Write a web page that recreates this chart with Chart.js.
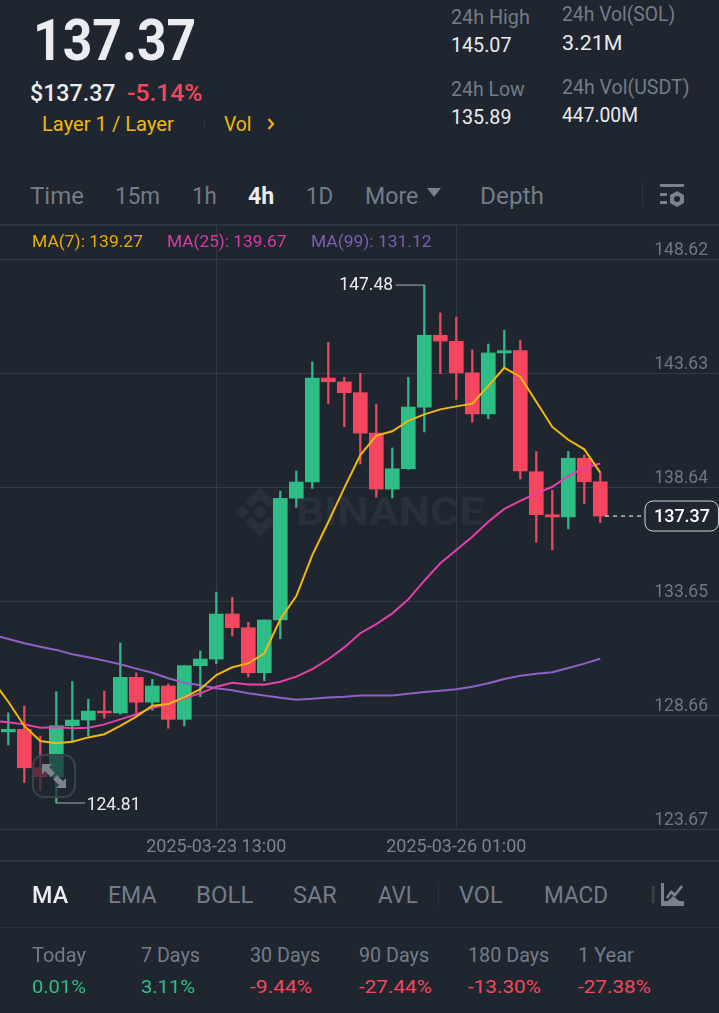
<!DOCTYPE html>
<html>
<head>
<meta charset="utf-8">
<title>SOL/USDT 4h</title>
<script src="https://cdn.jsdelivr.net/npm/chart.js@4"></script>
<style>
  html, body { margin: 0; padding: 0; background: #1f2630; }
  #page { position: relative; width: 719px; height: 1013px; overflow: hidden; background: #1f2630; font-family: Roboto, sans-serif; }
  .t { position: absolute; white-space: nowrap; line-height: 1; transform-origin: left center; z-index: 3; }
  .rule { position: absolute; background: #2d3440; z-index: 0; }
  #chartWrap { position: absolute; left: 0; top: 225px; width: 719px; height: 636px; z-index: 1; }
  #mark { position: absolute; left: 235px; top: 487px; z-index: 0; }
  #expand { position: absolute; left: 32px; top: 754px; width: 40px; height: 40px; border: 2px solid #3b414c; border-radius: 12px; background: rgba(31,38,48,.7); z-index: 2; }
  .icon { position: absolute; z-index: 3; }
</style>
</head>
<body>
<div id="page">
  <div class="rule" style="left:0;top:224px;width:719px;height:2px"></div>
  <div class="rule" style="left:0;top:860px;width:719px;height:2px"></div>
  <div class="rule" style="left:0;top:927px;width:719px;height:1px"></div>
  <div class="rule" style="left:642px;top:183px;width:1px;height:24px"></div>
  <div class="rule" style="left:438px;top:883px;width:1px;height:22px"></div>
  <div class="rule" style="left:204px;top:120px;width:1px;height:8px"></div>

  <svg id="mark" width="50" height="50" viewBox="0 0 48 48" fill="#2a303b">
    <polygon points="24,0 38,14 32,20 24,12 16,20 10,14"/>
    <polygon points="24,48 38,34 32,28 24,36 16,28 10,34"/>
    <polygon points="24,17 31,24 24,31 17,24"/>
    <polygon points="7,17 14,24 7,31 0,24"/>
    <polygon points="41,17 48,24 41,31 34,24"/>
  </svg>

  <div id="chartWrap"><canvas id="myChart" width="719" height="636"></canvas></div>

  <div id="expand">
    <svg width="40" height="40" viewBox="0 0 40 40" fill="#7b828d">
      <polygon points="8,8 18,8 15,11 21,17 17,21 11,15 8,18"/>
      <polygon points="32,32 22,32 25,29 19,23 23,19 29,25 32,22"/>
    </svg>
  </div>

  <svg class="icon" style="left:660px;top:183px" width="24" height="24" viewBox="0 0 24 24" fill="#7b828d">
    <rect x="0" y="1" width="24" height="3"/>
    <rect x="0" y="10" width="7" height="3"/>
    <rect x="0" y="18" width="7" height="3"/>
    <path d="M17 8l7 4v8l-7 4-7-4v-8zM17 13a3 3 0 100 6 3 3 0 000-6z" fill-rule="evenodd"/>
  </svg>
  <svg class="icon" style="left:661px;top:883px" width="23" height="23" viewBox="0 0 23 23" fill="#7b828d">
    <path d="M0 0h3v18h20v5H0z"/>
    <path d="M5 14l5-7 4 3 6-8 2 2-8 10-4-3-3 5z"/>
    <polygon points="12,13 18,18 7,18"/>
  </svg>
  <svg class="icon" style="left:427px;top:188px" width="14" height="9" viewBox="0 0 14 9" fill="#7b828d"><polygon points="0,0 14,0 7,9"/></svg>
  <svg class="icon" style="left:267px;top:118px" width="8" height="12" viewBox="0 0 8 12" fill="none" stroke="#f0b90b" stroke-width="2.2"><polyline points="1.5,1 6,6 1.5,11"/></svg>
</div>

<script>
// Свечи, слева направо, шаг 4 часа
const opens  = [127.92, 128.03, 126.35, 125.96, 128.19, 128.44, 128.83, 128.75, 130.31, 129.22, 129.93, 128.47, 130.82, 131.11, 133.08, 132.48, 130.51, 132.82, 138.15, 138.86, 143.41, 143.24, 142.77, 141.00, 138.55, 139.44, 142.14, 145.28, 145.02, 143.64, 141.84, 144.51, 144.61, 139.31, 137.43, 137.33, 139.90, 138.87];
const closes = [128.03, 126.35, 125.96, 128.19, 128.44, 128.83, 128.75, 130.31, 129.22, 129.93, 128.47, 130.82, 131.11, 133.08, 132.48, 130.51, 132.82, 138.15, 138.86, 143.41, 143.25, 142.77, 141.00, 138.55, 139.44, 142.14, 145.28, 145.03, 143.64, 141.84, 144.51, 144.61, 139.34, 137.43, 137.33, 139.90, 138.87, 137.37];
const highs  = [128.75, 129.05, 127.74, 129.68, 130.13, 129.35, 129.71, 131.81, 130.50, 130.22, 130.02, 130.82, 131.46, 134.04, 133.81, 132.72, 132.82, 138.46, 139.34, 144.12, 144.97, 143.44, 143.62, 142.27, 140.35, 143.44, 147.48, 146.26, 146.08, 144.64, 144.90, 145.50, 145.07, 140.19, 138.50, 140.20, 140.04, 139.28];
const lows   = [127.35, 125.70, 125.35, 124.81, 127.49, 127.75, 128.52, 128.70, 128.75, 128.87, 128.08, 128.18, 129.46, 130.91, 132.12, 130.32, 130.16, 132.00, 137.75, 138.58, 142.29, 141.28, 139.65, 138.19, 138.16, 139.41, 141.05, 143.60, 142.48, 141.48, 141.63, 143.84, 138.99, 136.22, 135.89, 136.81, 137.91, 137.09];

// Скользящие средние, первая точка лежит левее экрана (на одну свечу раньше)
const ma7  = [130.19, 129.24, 128.18, 127.52, 127.42, 127.49, 127.68, 127.82, 128.18, 128.59, 129.07, 129.14, 129.43, 129.79, 130.41, 130.75, 130.92, 131.36, 132.85, 133.87, 135.66, 137.11, 138.60, 140.04, 140.89, 141.08, 141.54, 141.82, 142.04, 142.17, 142.29, 143.07, 143.86, 143.47, 142.37, 141.27, 140.71, 140.29, 139.27];
const ma25 = [128.40, 128.34, 128.25, 128.10, 128.12, 128.08, 128.10, 128.25, 128.47, 128.69, 128.98, 129.13, 129.39, 129.61, 129.90, 130.07, 130.00, 129.99, 130.12, 130.34, 130.67, 131.10, 131.62, 132.24, 132.64, 133.11, 133.72, 134.54, 135.30, 135.88, 136.46, 137.12, 137.68, 138.03, 138.36, 138.65, 139.13, 139.47, 139.67];
const ma99 = [132.18, 131.99, 131.80, 131.65, 131.51, 131.32, 131.19, 131.04, 130.88, 130.69, 130.51, 130.27, 130.07, 129.96, 129.83, 129.74, 129.61, 129.51, 129.42, 129.33, 129.37, 129.43, 129.46, 129.51, 129.51, 129.51, 129.59, 129.67, 129.72, 129.79, 129.90, 130.05, 130.24, 130.38, 130.47, 130.53, 130.72, 130.91, 131.12];

const priceTicks = [123.67, 128.66, 133.65, 138.64, 143.63, 148.62];
const dateTicks  = [13, 28];
const dateLabels = ['2025-03-23 13:00', '2025-03-26 01:00'];

const lastPrice = 137.37;
const highPrice = 147.48;
const lowPrice  = 124.81;

const periods      = ['Today', '7 Days', '30 Days', '90 Days', '180 Days', '1 Year'];
const periodValues = ['0.01%', '3.11%', '-9.44%', '-27.44%', '-13.30%', '-27.38%'];

const GREEN = '#2ebd85';
const RED = '#f6465d';
const GOLD = '#f0b90b';
const GREY = '#747c88';
const WHITE = '#eaecef';

// Подпись с подгонкой ширины под оригинал (шрифт в оригинале уже)
const page = document.getElementById('page');
function put(text, x, cy, size, color, w, weight) {
  const el = document.createElement('span');
  el.className = 't';
  el.textContent = text;
  el.style.cssText = `left:${x}px;top:${cy}px;font-size:${size}px;color:${color};font-weight:${weight || 400}`;
  page.appendChild(el);
  const sx = w ? w / el.offsetWidth : 1;
  el.style.transform = `translateY(-50%) scaleX(${sx})`;
  return el;
}

put('137.37', 33, 40, 58, WHITE, 163, 700);
put('$137.37', 30, 93, 24, WHITE, 86, 500);
put('-5.14%', 127, 93, 24, RED, 75, 500);
put('Layer 1 / Layer', 42, 124, 20, GOLD, 132);
put('Vol', 224, 124, 20, GOLD, 28);

put('24h High', 451, 17, 20, GREY, 79);
put('145.07', 451, 45, 20, WHITE, 60);
put('24h Vol(SOL)', 562, 14, 20, GREY, 113);
put('3.21M', 562, 43, 20, WHITE, 60);
put('24h Low', 451, 89, 20, GREY, 74);
put('135.89', 451, 117, 20, WHITE, 60);
put('24h Vol(USDT)', 562, 87, 20, GREY, 127);
put('447.00M', 562, 115, 20, WHITE, 76);

put('Time', 30, 196, 24, GREY, 54);
put('15m', 115, 196, 24, GREY, 45);
put('1h', 192, 196, 24, GREY, 25);
put('4h', 248, 196, 24, WHITE, 26, 700);
put('1D', 306, 196, 24, GREY, 27);
put('More', 365, 196, 24, GREY, 53);
put('Depth', 480, 196, 24, GREY, 64);

put('MA(7): 139.27', 32, 241, 17, '#e5ae0c', 111);
put('MA(25): 139.67', 167, 241, 17, '#d93ba4', 120);
put('MA(99): 131.12', 311, 241, 17, '#7e5fae', 121);

put('MA', 32, 895, 24, WHITE, 36, 500);
put('EMA', 108, 895, 24, GREY, 48);
put('BOLL', 196, 895, 24, GREY, 57);
put('SAR', 293, 895, 24, GREY, 44);
put('AVL', 378, 895, 24, GREY, 40);
put('VOL', 459, 895, 24, GREY, 44);
put('MACD', 544, 895, 24, GREY, 64);
const cut = put('R', 650, 895, 24, '#3a414c');
cut.style.width = '5px';
cut.style.overflow = 'hidden';

const periodX = [32, 141, 250, 359, 468, 578];
const labelW  = [54, 59, 70, 70, 81, 56];
const valueW  = [54, 54, 62, 73, 73, 73];
periods.forEach((p, i) => {
  put(p, periodX[i], 955, 20, GREY, labelW[i]);
  put(periodValues[i], periodX[i], 986, 19, periodValues[i][0] === '-' ? RED : GREEN, valueW[i]);
});

// Водяной знак под холстом
put('BINANCE', 296, 512, 38, '#2a303b', 188, 700).style.zIndex = 0;

const isUp = opens.map((o, i) => closes[i] >= o);
const candleColors = isUp.map(up => up ? GREEN : RED);

function maLine(values, color) {
  return {
    type: 'line',
    data: values.map((v, i) => ({ x: i - 1, y: v })),
    borderColor: color,
    borderWidth: 2,
    pointRadius: 0,
    tension: 0,
    order: 1
  };
}

// Тонкие линии к подписям максимума, минимума и последней цены
function markLine(x1, x2, price, color, dash) {
  return {
    type: 'line',
    data: [{ x: x1, y: price }, { x: x2, y: price }],
    borderColor: color,
    borderWidth: 1.3,
    borderDash: dash || [],
    pointRadius: 0,
    order: 0
  };
}

const labelsPlugin = {
  id: 'priceLabels',
  afterDatasetsDraw(chart) {
    const { ctx, scales: { x, y } } = chart;
    ctx.save();
    ctx.font = '17.5px Roboto';
    ctx.fillStyle = '#eaecef';
    ctx.textBaseline = 'middle';
    ctx.textAlign = 'right';
    ctx.fillText(highPrice.toFixed(2), x.getPixelForValue(24.05), y.getPixelForValue(highPrice) + 1);
    ctx.textAlign = 'left';
    ctx.fillText(lowPrice.toFixed(2), x.getPixelForValue(4.9), y.getPixelForValue(lowPrice) + 3);

    const py = y.getPixelForValue(lastPrice);
    ctx.beginPath();
    ctx.roundRect(645, py - 15, 73.5, 30, 8);
    ctx.fillStyle = '#1f2630';
    ctx.fill();
    ctx.strokeStyle = '#d5d8dc';
    ctx.lineWidth = 1;
    ctx.stroke();
    ctx.fillStyle = '#ffffff';
    ctx.font = '500 18px Roboto';
    ctx.textAlign = 'center';
    ctx.fillText(lastPrice.toFixed(2), 682, py + 1);
    ctx.restore();
  }
};

function createCandleChart() {
  const config = {
    type: 'bar',
    data: {
      datasets: [
        markLine(3, 4.8, lowPrice, '#8b9199'),
        markLine(24.2, 26, highPrice, '#8b9199'),
        markLine(37.3, 39.8, lastPrice, '#d5d8dc', [4, 4]),
        maLine(ma7, '#f0b90b'),
        maLine(ma25, '#e83fa8'),
        maLine(ma99, '#8f62c4'),
        {
          data: opens.map((o, i) => ({ x: i, y: [o, closes[i]] })),
          backgroundColor: candleColors,
          barThickness: 14,
          grouped: false,
          order: 2
        },
        {
          data: lows.map((l, i) => ({ x: i, y: [l, highs[i]] })),
          backgroundColor: candleColors,
          barThickness: 1.6,
          grouped: false,
          order: 3
        }
      ]
    },
    options: {
      responsive: false,
      animation: false,
      layout: { padding: 0 },
      plugins: { legend: { display: false }, tooltip: { enabled: false } },
      scales: {
        x: {
          type: 'linear',
          offset: false,
          min: -0.519,
          max: 44.419,
          border: { display: false },
          grid: { color: '#333a46', drawTicks: false, offset: false },
          afterBuildTicks: s => { s.ticks = dateTicks.map(v => ({ value: v })); },
          afterFit: s => { s.height = 32; s.paddingLeft = 0; s.paddingRight = 0; },
          ticks: {
            autoSkip: false,
            maxRotation: 0,
            padding: 8,
            color: '#7c838e',
            font: { family: 'Roboto', size: 18 },
            callback: v => dateLabels[dateTicks.indexOf(v)]
          }
        },
        y: {
          type: 'linear',
          position: 'right',
          min: 123.67,
          max: 150.11,
          border: { display: false },
          grid: { color: '#333a46', drawTicks: false },
          afterBuildTicks: s => { s.ticks = priceTicks.map(v => ({ value: v })); },
          afterFit: s => { s.width = 0; s.paddingTop = 0; s.paddingBottom = 0; },
          ticks: {
            mirror: true,
            padding: -11,
            labelOffset: -8,
            color: '#6f7783',
            font: { family: 'Roboto', size: 17.5 },
            callback: v => v.toFixed(2)
          }
        }
      }
    },
    plugins: [labelsPlugin]
  };

  return new Chart(document.getElementById('myChart'), config);
}

createCandleChart();
</script>
</body>
</html>
